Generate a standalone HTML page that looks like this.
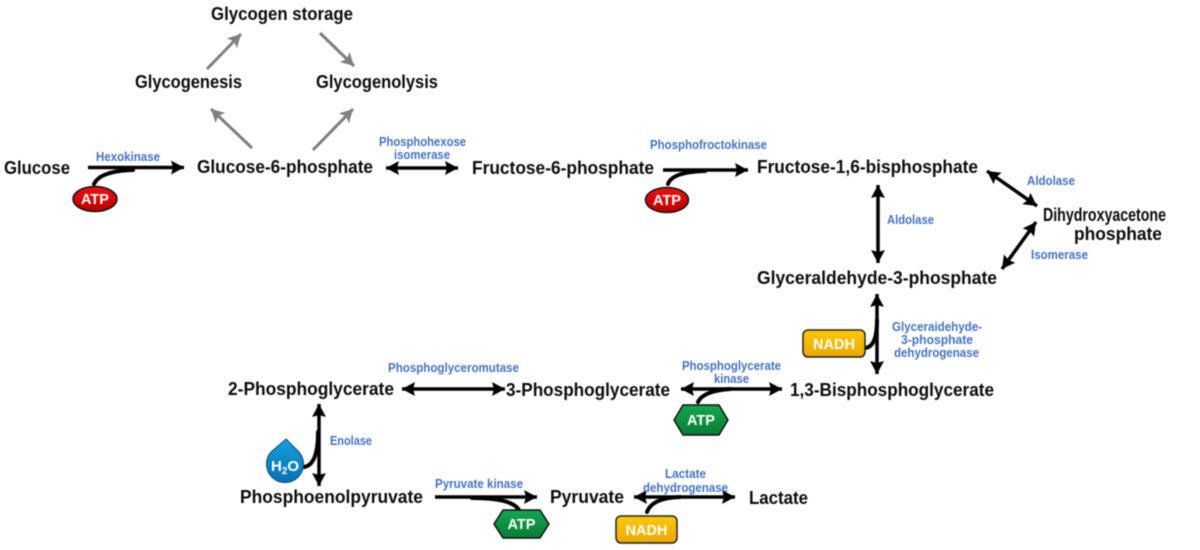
<!DOCTYPE html>
<html><head><meta charset="utf-8"><style>
html,body{margin:0;padding:0;background:#fff}
svg{display:block;filter:blur(0.45px)}
text{font-family:"Liberation Sans",sans-serif;font-weight:bold}
.k{font-size:18px;fill:#0c0c0c}
.b{font-size:12.500px;fill:#4472c4;text-anchor:start}
.w{fill:#fff;font-size:14.500px;text-anchor:middle}
.l{stroke:#000;stroke-width:3.500;fill:none}
.c{stroke:#000;stroke-width:4;fill:none;stroke-linecap:round}
.g{stroke:#7f7f7f;stroke-width:3;fill:none}
</style></head><body>
<svg width="1200" height="550" viewBox="0 0 1200 550" xmlns="http://www.w3.org/2000/svg">
<defs>
<marker id="a" markerUnits="userSpaceOnUse" markerWidth="16" markerHeight="16" refX="13" refY="7" orient="auto-start-reverse"><path d="M0 0L13 7L0 14L2 7Z" fill="#000"/></marker>
<marker id="h" markerUnits="userSpaceOnUse" markerWidth="16" markerHeight="16" refX="13" refY="7" orient="auto"><path d="M0 0L13 7L0 14L3 7Z" fill="#7f7f7f"/></marker>
<linearGradient id="red" x1="0" y1="0" x2="0" y2="1"><stop offset="0" stop-color="#f01010"/><stop offset="1" stop-color="#b80000"/></linearGradient>
<linearGradient id="grn" x1="0" y1="0" x2="0" y2="1"><stop offset="0" stop-color="#12a84e"/><stop offset="1" stop-color="#0a7c36"/></linearGradient>
<linearGradient id="yel" x1="0" y1="0" x2="0" y2="1"><stop offset="0" stop-color="#ffc80a"/><stop offset="1" stop-color="#eba800"/></linearGradient>
<linearGradient id="blu" x1="0" y1="0" x2="0" y2="1"><stop offset="0" stop-color="#14a0e0"/><stop offset="1" stop-color="#0a70b0"/></linearGradient>
</defs>

<!-- grey arrows -->
<path class="g" marker-end="url(#h)" d="M207 69L241 34"/>
<path class="g" marker-end="url(#h)" d="M320 33L354 66"/>
<path class="g" marker-end="url(#h)" d="M252 148L211 109"/>
<path class="g" marker-end="url(#h)" d="M313 150L353 109"/>

<!-- black arrows -->
<path class="l" marker-end="url(#a)" d="M88 167.500L184 167.500"/>
<path class="l" marker-start="url(#a)" marker-end="url(#a)" d="M386 168L458 168"/>
<path class="l" marker-end="url(#a)" d="M663 170L748 170"/>
<path class="l" marker-start="url(#a)" marker-end="url(#a)" d="M878 185L878 263"/>
<path class="l" marker-start="url(#a)" marker-end="url(#a)" d="M987 171L1037 206"/>
<path class="l" marker-start="url(#a)" marker-end="url(#a)" d="M1036 222L1002 269"/>
<path class="l" marker-start="url(#a)" marker-end="url(#a)" d="M877 294L877 374"/>
<path class="l" marker-start="url(#a)" marker-end="url(#a)" d="M681 389L782 389"/>
<path class="l" marker-start="url(#a)" marker-end="url(#a)" d="M402 389L505 389"/>
<path class="l" marker-start="url(#a)" marker-end="url(#a)" d="M319 404L319 486"/>
<path class="l" marker-end="url(#a)" d="M435 497L537 497"/>
<path class="l" marker-start="url(#a)" marker-end="url(#a)" d="M634 497L735 497"/>

<!-- cofactor curves -->
<path class="c" d="M94 184Q100 171 133 170"/>
<path class="c" d="M668 184Q672 172 705 171"/>
<path class="c" d="M865 348Q877 347 877 320"/>
<path class="c" d="M698 402Q703 391 730 389"/>
<path class="c" d="M304 467Q318 465 318 432"/>
<path class="c" d="M472 498Q512 498 519 510"/>
<path class="c" d="M647 512Q652 498 680 497"/>

<!-- cofactors -->
<ellipse cx="95" cy="199" rx="22" ry="12.500" fill="url(#red)" stroke="#111" stroke-width="1.500"/>
<text class="w" x="95" y="204">ATP</text>
<ellipse cx="667" cy="200" rx="21.500" ry="12.500" fill="url(#red)" stroke="#111" stroke-width="1.500"/>
<text class="w" x="667" y="205">ATP</text>
<rect x="803" y="330" width="62" height="27" rx="5" fill="url(#yel)" stroke="#222" stroke-width="1.500"/>
<text class="w" x="834" y="349">NADH</text>
<rect x="616" y="516" width="61" height="27" rx="5" fill="url(#yel)" stroke="#222" stroke-width="1.500"/>
<text class="w" x="646.500" y="535">NADH</text>
<path d="M674 420L683 405H719L728 420L719 435H683Z" fill="url(#grn)" stroke="#111" stroke-width="1.500"/>
<text class="w" x="701" y="425">ATP</text>
<path d="M494 524L503 510H540L549 524L540 538H503Z" fill="url(#grn)" stroke="#111" stroke-width="1.500"/>
<text class="w" x="521.500" y="529">ATP</text>
<path d="M286 439L299 452A18.500 18.500 0 1 1 271 452Z" fill="url(#blu)" stroke="#0b4a78" stroke-width="1"/>
<text class="w" x="285" y="471" style="font-size:15px">H<tspan font-size="10" dy="3">2</tspan><tspan dy="-3">O</tspan></text>

<!-- black labels -->
<text class="k" x="211" y="20" textLength="142" lengthAdjust="spacingAndGlyphs">Glycogen storage</text>
<text class="k" x="135" y="88" textLength="107" lengthAdjust="spacingAndGlyphs">Glycogenesis</text>
<text class="k" x="316" y="88" textLength="122" lengthAdjust="spacingAndGlyphs">Glycogenolysis</text>
<text class="k" x="4" y="174" textLength="66" lengthAdjust="spacingAndGlyphs">Glucose</text>
<text class="k" x="197" y="173" textLength="176" lengthAdjust="spacingAndGlyphs">Glucose-6-phosphate</text>
<text class="k" x="472" y="174" textLength="182" lengthAdjust="spacingAndGlyphs">Fructose-6-phosphate</text>
<text class="k" x="757" y="173" textLength="221" lengthAdjust="spacingAndGlyphs">Fructose-1,6-bisphosphate</text>
<text class="k" x="1043" y="221" textLength="123" lengthAdjust="spacingAndGlyphs">Dihydroxyacetone</text>
<text class="k" x="1074" y="240" textLength="88" lengthAdjust="spacingAndGlyphs">phosphate</text>
<text class="k" x="757" y="284" textLength="240" lengthAdjust="spacingAndGlyphs">Glyceraldehyde-3-phosphate</text>
<text class="k" x="790" y="396" textLength="204" lengthAdjust="spacingAndGlyphs">1,3-Bisphosphoglycerate</text>
<text class="k" x="506" y="396" textLength="164" lengthAdjust="spacingAndGlyphs">3-Phosphoglycerate</text>
<text class="k" x="228" y="395" textLength="166" lengthAdjust="spacingAndGlyphs">2-Phosphoglycerate</text>
<text class="k" x="240" y="503" textLength="183" lengthAdjust="spacingAndGlyphs">Phosphoenolpyruvate</text>
<text class="k" x="550" y="503" textLength="74" lengthAdjust="spacingAndGlyphs">Pyruvate</text>
<text class="k" x="749" y="504" textLength="59" lengthAdjust="spacingAndGlyphs">Lactate</text>

<!-- blue labels -->
<text class="b" x="96" y="161" textLength="64" lengthAdjust="spacingAndGlyphs">Hexokinase</text>
<text class="b" x="379" y="146" textLength="87" lengthAdjust="spacingAndGlyphs">Phosphohexose</text>
<text class="b" x="394" y="159" textLength="56" lengthAdjust="spacingAndGlyphs">isomerase</text>
<text class="b" x="650" y="149" textLength="117" lengthAdjust="spacingAndGlyphs">Phosphofroctokinase</text>
<text class="b" x="887" y="224" textLength="47" lengthAdjust="spacingAndGlyphs">Aldolase</text>
<text class="b" x="1027" y="185" textLength="48" lengthAdjust="spacingAndGlyphs">Aldolase</text>
<text class="b" x="1031" y="259" textLength="57" lengthAdjust="spacingAndGlyphs">Isomerase</text>
<text class="b" x="892" y="331" textLength="90" lengthAdjust="spacingAndGlyphs">Glyceraidehyde-</text>
<text class="b" x="901" y="344" textLength="72" lengthAdjust="spacingAndGlyphs">3-phosphate</text>
<text class="b" x="894" y="357" textLength="85" lengthAdjust="spacingAndGlyphs">dehydrogenase</text>
<text class="b" x="682" y="370" textLength="99" lengthAdjust="spacingAndGlyphs">Phosphoglycerate</text>
<text class="b" x="714" y="383" textLength="35" lengthAdjust="spacingAndGlyphs">kinase</text>
<text class="b" x="388" y="372" textLength="131" lengthAdjust="spacingAndGlyphs">Phosphoglyceromutase</text>
<text class="b" x="330" y="445" textLength="42" lengthAdjust="spacingAndGlyphs">Enolase</text>
<text class="b" x="435" y="488" textLength="88" lengthAdjust="spacingAndGlyphs">Pyruvate kinase</text>
<text class="b" x="665" y="478" textLength="41" lengthAdjust="spacingAndGlyphs">Lactate</text>
<text class="b" x="643" y="492" textLength="85" lengthAdjust="spacingAndGlyphs">dehydrogenase</text>
</svg>
</body></html>
